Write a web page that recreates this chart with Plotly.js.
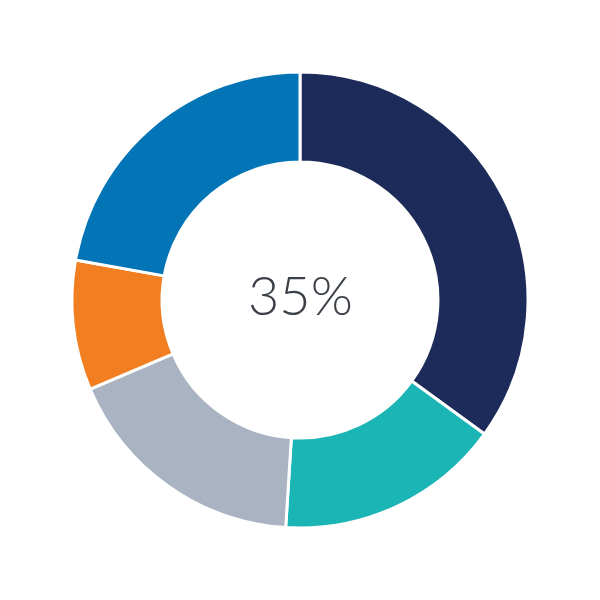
<!DOCTYPE html>
<html>
<head>
<meta charset="utf-8">
<script src="https://cdn.plot.ly/plotly-3.0.1.min.js"></script>
<style>
  html, body { margin: 0; padding: 0; background: #ffffff; }
  #chart { width: 600px; height: 600px; }
</style>
</head>
<body>
<div id="chart"></div>
<script>
// slice shares, read clockwise from 12 o'clock
var labels = ["Navy", "Teal", "Gray", "Orange", "Blue"];
var values = [35, 16, 17.6, 9.2, 22.2];
var colors = ["#1d2b5a", "#1cb5b6", "#a9b3c2", "#f17e21", "#0374b5"];
var centerLabel = "35%";

var data = [
  {
    type: "pie",
    labels: labels,
    values: values,
    hole: 0.605,
    sort: false,
    direction: "clockwise",
    rotation: 0,
    textinfo: "none",
    hoverinfo: "label+percent",
    marker: {
      colors: colors,
      line: { color: "#ffffff", width: 3 }
    }
  }
];

var layout = {
  width: 600,
  height: 600,
  margin: { t: 72, r: 72, l: 72, b: 72 },
  showlegend: false,
  paper_bgcolor: "#ffffff",
  annotations: [
    {
      text: centerLabel,
      x: 0.5, y: 0.512,
      xref: "paper", yref: "paper",
      showarrow: false,
      font: { family: "Lato", size: 54, color: "#3b4147", weight: 300 }
    }
  ]
};

Plotly.newPlot("chart", data, layout, { displayModeBar: false });
</script>
</body>
</html>
